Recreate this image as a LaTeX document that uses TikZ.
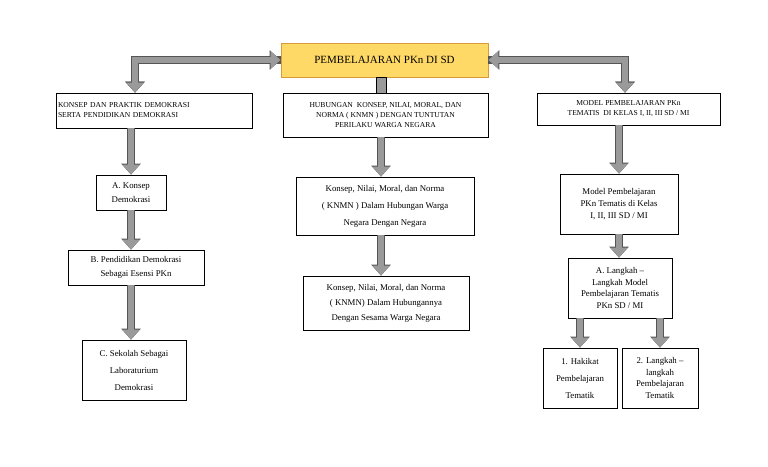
\documentclass[tikz,border=0pt]{standalone}
\usepackage{fontspec}
\setmainfont{Liberation Serif}
\usetikzlibrary{arrows.meta}
\definecolor{topfill}{HTML}{FFD966}
\definecolor{topline}{HTML}{D99A3A}
\definecolor{arrfill}{HTML}{9A9A9A}
\definecolor{arrline}{HTML}{555555}
\begin{document}
\begin{tikzpicture}[x=1pt,y=-1pt,
  box/.style={draw=black,fill=white,line width=0.8pt,align=center,inner sep=2pt,font=\fontsize{8.8}{14}\selectfont},
  caps/.style={box,font=\fontsize{7.6}{10}\selectfont},
  fat/.style={line width=6pt,draw=arrfill,-{Triangle[width=17pt,length=10pt,fill=arrfill]},
    preaction={draw=arrline,line width=7.6pt,-{Triangle[width=19pt,length=11pt]}}},
  fatboth/.style={fat,{Triangle[width=17pt,length=10pt,fill=arrfill]}-{Triangle[width=17pt,length=10pt,fill=arrfill]},
    preaction={draw=arrline,line width=7.6pt,{Triangle[width=19pt,length=11pt]}-{Triangle[width=19pt,length=11pt]}}}]
  \useasboundingbox (0,0) rectangle (768,466);
  % top
  \node[box,draw=topline,fill=topfill,minimum width=207pt,minimum height=34pt,font=\fontsize{11}{12}\selectfont] (top) at (384.5,60) {PEMBELAJARAN PKn DI SD};
  % first row
  \node[caps,text width=192pt,minimum height=35pt,align=left] (kons) at (154,110.5) {KONSEP DAN PRAKTIK DEMOKRASI\\SERTA PENDIDIKAN DEMOKRASI};
  \node[caps,minimum width=205pt,minimum height=44pt] (hub) at (385.5,115) {HUBUNGAN\ \ KONSEP, NILAI, MORAL, DAN\\NORMA ( KNMN ) DENGAN TUNTUTAN\\PERILAKU WARGA NEGARA};
  \node[caps,minimum width=183pt,minimum height=32pt] (model) at (628.5,109) {MODEL PEMBELAJARAN PKn\\TEMATIS\ \ DI KELAS I, II, III SD / MI};
  \node[draw=black,fill=arrfill,minimum width=10pt,minimum height=16pt,inner sep=0pt] (link) at (381,85) {};
  % left column
  \node[box,minimum width=70pt,minimum height=35pt] (ka) at (131,192.5) {A. Konsep\\Demokrasi};
  \node[box,minimum width=136pt,minimum height=35pt] (kb) at (136,267.5) {B. Pendidikan Demokrasi\\Sebagai Esensi PKn};
  \node[box,minimum width=104pt,minimum height=60pt,font=\fontsize{8.8}{17}\selectfont] (kc) at (134,370) {C. Sekolah Sebagai\\Laboraturium\\Demokrasi};
  % middle column
  \node[box,minimum width=178pt,minimum height=58pt,font=\fontsize{8.8}{17}\selectfont] (ha) at (385,206) {Konsep, Nilai, Moral, dan Norma\\( KNMN ) Dalam Hubungan Warga\\Negara Dengan Negara};
  \node[box,minimum width=166pt,minimum height=54pt,font=\fontsize{8.8}{15}\selectfont] (hb) at (386,303) {Konsep, Nilai, Moral, dan Norma\\( KNMN) Dalam Hubungannya\\Dengan Sesama Warga Negara};
  % right column
  \node[box,minimum width=118pt,minimum height=60pt,font=\fontsize{8.8}{12}\selectfont] (ma) at (619,204) {Model Pembelajaran\\PKn Tematis di Kelas\\I, II, III SD / MI};
  \node[box,minimum width=104pt,minimum height=60pt,font=\fontsize{8.8}{11.5}\selectfont] (mb) at (620,288) {A. Langkah --\\Langkah Model\\Pembelajaran Tematis\\PKn SD / MI};
  \node[box,minimum width=74pt,minimum height=60pt,font=\fontsize{8.8}{17}\selectfont] (mc) at (580,378) {1. Hakikat\\Pembelajaran\\Tematik};
  \node[box,minimum width=76pt,minimum height=60pt,font=\fontsize{8.8}{11.5}\selectfont] (md) at (660,378) {2. Langkah --\\langkah\\Pembelajaran\\Tematik};
  % arrows
  \draw[fatboth] (top.west) -- (135,60) -- (kons.north -| 135,0);
  \draw[fatboth] (top.east) -- (625,60) -- (model.north -| 625,0);
  \draw[fat] (kons.south -| ka.north) -- (ka.north);
  \draw[fat] (ka.south) -- (kb.north -| ka.south);
  \draw[fat] (kb.south -| ka.south) -- (kc.north -| ka.south);
  \draw[fat] (hub.south -| link) -- (ha.north -| link);
  \draw[fat] (ha.south -| link) -- (hb.north -| link);
  \draw[fat] (model.south -| ma.north) -- (ma.north);
  \draw[fat] (ma.south) -- (mb.north -| ma.south);
  \draw[fat] (mb.south -| mc.north) -- (mc.north);
  \draw[fat] (mb.south -| md.north) -- (md.north);
\end{tikzpicture}
\end{document}
